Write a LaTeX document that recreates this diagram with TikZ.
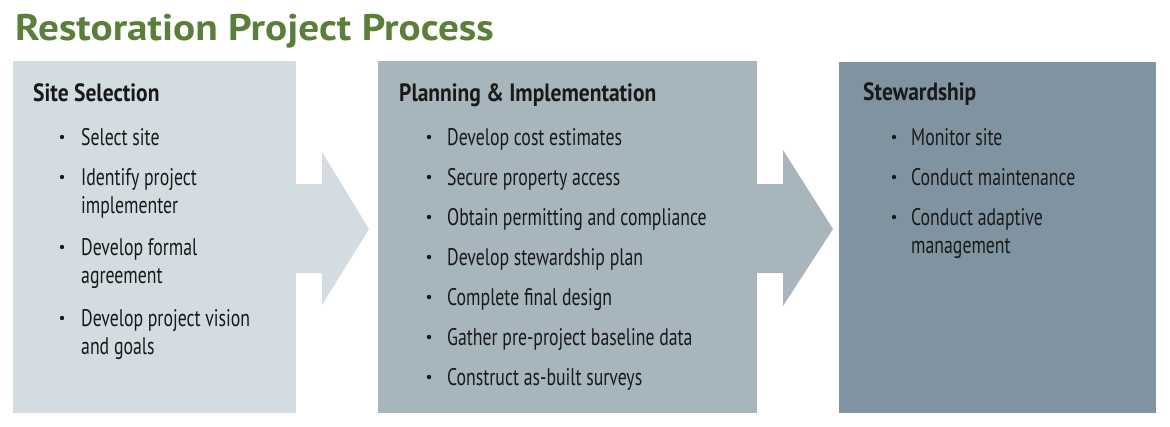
\documentclass[tikz,border=0pt]{standalone}
\usepackage{fontspec}
\setmainfont{PT Sans}[FakeStretch=0.74]
\newfontfamily\headfont{PT Sans}[FakeStretch=0.86]
\newfontfamily\titlefont{PT Sans}[FakeStretch=1.115]
\definecolor{cone}{RGB}{211,220,224}
\definecolor{ctwo}{RGB}{167,181,189}
\definecolor{cthree}{RGB}{127,148,160}
\definecolor{ctitle}{RGB}{91,127,58}
\definecolor{ctext}{RGB}{25,25,25}
\tikzset{
  panel/.style={draw=none, anchor=north west, inner sep=0pt},
  head/.style={anchor=base west, inner sep=0pt, font=\fontsize{25}{30}\headfont\bfseries, text=ctext},
  item/.style={anchor=base west, inner sep=0pt, font=\fontsize{24}{28}\selectfont, text=ctext},
  bul/.style={circle, fill=ctext, inner sep=0pt, minimum size=4.4pt}
}
% one-line item: name, x, y, text, bullet offset
\newcommand{\itm}[5]{%
  \node[item] (#1) at (#2,#3) {#4};
  \node[bul] (#1b) at ([xshift=#5, yshift=8pt]#1.base west) {};
}
% two-line item
\newcommand{\itmm}[6]{%
  \node[item] (#1) at (#2,#3) {#4};
  \node[item] (#1x) at ([yshift=-28.5pt]#1.base west) {#5};
  \node[bul] (#1b) at ([xshift=#6, yshift=8pt]#1.base west) {};
}
\begin{document}
\begin{tikzpicture}[x=1pt,y=-1pt]
\useasboundingbox (0,0) rectangle (1170,426);
% panels
\node[panel, fill=cone, minimum width=283pt, minimum height=352pt] (p1) at (13,61) {};
\node[panel, fill=ctwo, minimum width=379pt, minimum height=352pt] (p2) at (378,61) {};
\node[panel, fill=cthree, minimum width=317pt, minimum height=351pt] (p3) at (839,61.5) {};
% arrows
\fill[cone] (290,184) -- (322,184) -- (322,152) -- (369,229) -- (322,305) -- (322,273) -- (290,273) -- cycle;
\fill[ctwo] (752,184) -- (783,184) -- (783,150) -- (833,229) -- (783,306) -- (783,273) -- (752,273) -- cycle;
% title
\node[anchor=base west, inner sep=0pt, text=ctitle, font=\fontsize{37}{42}\titlefont\bfseries] (title) at (15,40) {Restoration Project Process};
% headings
\node[head] (h1) at (33,101) {Site Selection};
\node[head] (h2) at (399,101) {Planning \& Implementation};
\node[head] (h3) at (863,100) {Stewardship};
% site selection
\itm{a1}{81}{145}{Select site}{-19pt}
\itmm{a2}{81}{185}{Identify project}{implementer}{-19pt}
\itmm{a3}{81}{255}{Develop formal}{agreement}{-19pt}
\itmm{a4}{81}{326}{Develop project vision}{and goals}{-19pt}
% planning
\itm{b1}{447}{145}{Develop cost estimates}{-18pt}
\itm{b2}{447}{185}{Secure property access}{-18pt}
\itm{b3}{447}{225}{Obtain permitting and compliance}{-18pt}
\itm{b4}{447}{265}{Develop stewardship plan}{-18pt}
\itm{b5}{447}{305}{Complete final design}{-18pt}
\itm{b6}{447}{345}{Gather pre-project baseline data}{-18pt}
\itm{b7}{447}{385}{Construct as-built surveys}{-18pt}
% stewardship
\itm{c1}{911}{145}{Monitor site}{-17pt}
\itm{c2}{911}{185}{Conduct maintenance}{-17pt}
\itmm{c3}{911}{225}{Conduct adaptive}{management}{-17pt}
\end{tikzpicture}
\end{document}
